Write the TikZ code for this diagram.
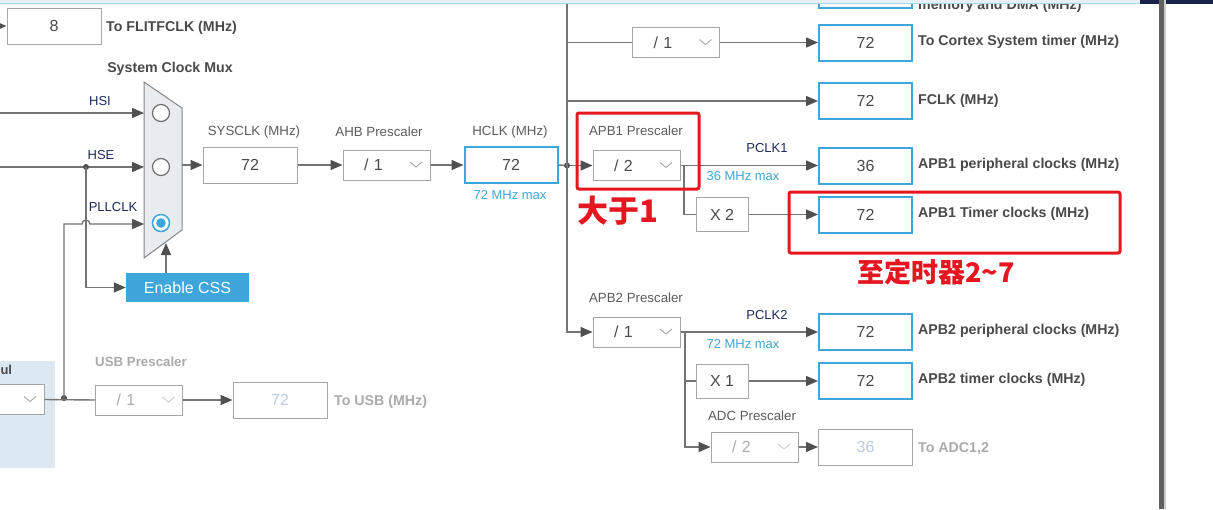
\documentclass[tikz,border=0pt]{standalone}
\usepackage{fontspec}
\setmainfont{Liberation Sans}
\newfontfamily\cjk{Noto Sans CJK SC}
\usetikzlibrary{arrows.meta, positioning, calc}
\definecolor{wireg}{HTML}{747474}
\definecolor{tipg}{HTML}{505050}
\definecolor{boxg}{HTML}{A6A6A6}
\definecolor{cubeblue}{HTML}{3EA6DB}
\definecolor{txtg}{HTML}{4A4A4A}
\definecolor{navy}{HTML}{1F2B5E}
\definecolor{dimg}{HTML}{ABABAB}
\definecolor{dimblue}{HTML}{B9CCE2}
\definecolor{markred}{HTML}{E5161F}
\definecolor{muxfill}{HTML}{E9ECEF}
\definecolor{panelblue}{HTML}{DCE9F5}

\newcommand\chevron[1]{\draw[draw=#1, line width=0.9pt]
  ($(path picture bounding box.east)+(-20pt,3pt)$) -- ++(6pt,-5pt) -- ++(6pt,5pt);}

\tikzset{
  wire/.style={draw=wireg, line width=1.4pt},
  feed/.style={wire, -{Triangle[length=12pt,width=10pt,color=tipg]}},
  valbox/.style={draw=boxg, line width=1pt, fill=white, minimum width=94pt,
    minimum height=36pt, inner sep=0pt, text=txtg, font=\fontsize{16}{17}\selectfont},
  clkbox/.style={valbox, draw=cubeblue, line width=2pt, minimum width=93pt},
  dimbox/.style={valbox, text=dimblue},
  dropbox/.style={draw=boxg, line width=1pt, fill=white, minimum height=30pt,
    text width=45pt, inner xsep=21pt, inner ysep=0pt, align=left, text=txtg,
    font=\fontsize{16}{17}\selectfont, path picture={\chevron{boxg}}},
  dimdrop/.style={dropbox, text=dimg, path picture={\chevron{dimg!60}}},
  toplbl/.style={text=txtg!90, font=\fontsize{13.3}{15}\selectfont},
  dimlbl/.style={toplbl, text=dimg, font=\bfseries\fontsize{13.3}{15}\selectfont},
  outlbl/.style={anchor=west, inner xsep=0pt, text=txtg, font=\bfseries\fontsize{14.2}{15}\selectfont},
  siglbl/.style={text=navy, font=\fontsize{13}{14}\selectfont},
  maxlbl/.style={text=cubeblue, font=\fontsize{13}{14}\selectfont},
  notelbl/.style={text=markred, font=\cjk\bfseries\fontsize{28}{30}\selectfont},
  redframe/.style={draw=markred, line width=3pt, rounded corners=2pt},
  muxpin/.style={circle, draw=txtg!80, line width=1.2pt, fill=white, minimum size=17pt, inner sep=0pt},
  dot/.style={circle, fill=tipg, minimum size=6pt, inner sep=0pt}
}

\begin{document}
\begin{tikzpicture}[x=1pt,y=-1pt]
\path[use as bounding box, clip] (0,0) rectangle (1213,509);
\fill[white] (0,0) rectangle (1213,509);

% PLL multiplier panel, cut at the left edge
\fill[panelblue] (-1,361) rectangle (55,468);
\node[anchor=west, text=txtg, font=\bfseries\fontsize{13}{14}\selectfont] (mullbl) at (-3,370) {ul};
\node[dropbox] (pllmul) at (0.5,399.5) {};

% flash clock
\coordinate (flitin) at (0,26);
\node[valbox] (flit) at (54,26) {8};
\node[outlbl] (flitlbl) at (106,28) {To FLITFCLK (MHz)};
\draw[feed] (flitin) -- (flit.west);

% system clock mux
\node[text=txtg, font=\bfseries\fontsize{14.2}{15}\selectfont] (muxlbl) at (170,69) {System Clock Mux};
\filldraw[fill=muxfill, draw=boxg!80!black, line width=1pt]
  (144,82) -- (182,108) -- (182,230) -- (144,258) -- cycle;
\node[muxpin] (pinhsi) at (161,113) {};
\node[muxpin] (pinhse) at (161,167) {};
\node[muxpin, draw=cubeblue, line width=1.5pt] (pinpll) at (161,223) {};
\fill[cubeblue] (pinpll) circle (4.8);
\coordinate (hsiin) at (144,113);
\coordinate (hsein) at (144,167);
\coordinate (pllin) at (144,224);
\coordinate (muxout) at (182,165);
\coordinate (muxbot) at (166,243);

\node[siglbl] (hsilbl) at (100,101) {HSI};
\node[siglbl] (hselbl) at (101,155) {HSE};
\node[siglbl] (plllbl) at (113,207) {PLLCLK};
\draw[feed] (0,113) -- (hsiin);
\draw[feed] (0,167) -- (hsein);
\node[dot] (hsedot) at (86,167) {};
\node[dot] (usbdot) at (64,398) {};
\draw[feed] (usbdot.center) -- (64,224) -- (82,224) arc (180:360:4) -- (pllin);

\node[fill=cubeblue, text=white, minimum width=123pt, minimum height=29pt, inner sep=0pt,
  font=\fontsize{16}{17}\selectfont] (css) at (187.5,287.5) {Enable CSS};
\draw[feed] (hsedot.center) -- (86,287.5) -- (css.west);
\draw[feed] (css.north -| muxbot) -- (muxbot);

% SYSCLK -> AHB -> HCLK
\node[valbox] (sysclk) at (250,165) {72};
\node[toplbl] (syslbl) at (254,132) {SYSCLK (MHz)};
\node[dropbox] (ahb) at (386.5,165) {/ 1};
\node[toplbl] (ahblbl) at (379,132) {AHB Prescaler};
\node[clkbox] (hclk) at (511,165) {72};
\node[toplbl] (hclklbl) at (510,132) {HCLK (MHz)};
\node[maxlbl] (hclkmax) at (510,195) {72 MHz max};
\draw[feed] (muxout) -- (sysclk.west);
\draw[feed] (sysclk.east) -- (ahb.west);
\draw[feed] (ahb.east) -- (hclk.west);

% USB
\node[dimlbl] (usblbl) at (141,362) {USB Prescaler};
\node[dimdrop] (usb) at (139,400) {/ 1};
\node[dimbox] (usbout) at (280,400) {72};
\node[anchor=west, inner xsep=0pt, text=dimg, font=\bfseries\fontsize{14.2}{15}\selectfont] (usboutlbl) at (334,402) {To USB (MHz)};
\draw[wire] (pllmul.east) -- (usb.west);
\draw[feed] (usb.east) -- (usbout.west);

% HCLK bus
\coordinate (bustop) at (567,0);
\node[dot] (busdot) at (567,165.5) {};
\draw[wire] (hclk.east) -- (busdot);

\node[clkbox] (dma) at (865.5,-10) {};
\node[outlbl] (dmalbl) at (918,6) {memory and DMA (MHz)};

\node[dropbox] (cortexdiv) at (676,42.5) {/ 1};
\node[clkbox] (cortex) at (865.5,42.5) {72};
\node[outlbl] (cortexlbl) at (918,42) {To Cortex System timer (MHz)};
\draw[wire] (bustop |- cortexdiv) -- (cortexdiv.west);
\draw[feed] (cortexdiv.east) -- (cortex.west);

\node[clkbox] (fclk) at (865.5,101) {72};
\node[outlbl] (fclklbl) at (918,101) {FCLK (MHz)};
\draw[feed] (bustop |- fclk) -- (fclk.west);

% APB1
\node[toplbl] (apb1lbl) at (636,131) {APB1 Prescaler};
\node[dropbox] (apb1) at (636.5,165.5) {/ 2};
\node[clkbox] (apb1per) at (865.5,165.5) {36};
\node[outlbl] (apb1perlbl) at (918,165) {APB1 peripheral clocks (MHz)};
\node[siglbl] (pclk1) at (767,148) {PCLK1};
\node[maxlbl] (apb1max) at (743,176) {36 MHz max};
\node[valbox, minimum width=52pt, minimum height=34pt] (x2) at (722,214.5) {X 2};
\node[clkbox] (apb1tim) at (865.5,214.5) {72};
\node[outlbl] (apb1timlbl) at (918,214) {APB1 Timer clocks (MHz)};
\draw[feed] (busdot) -- (apb1.west);
\draw[feed] (apb1.east) -- (apb1per.west);
\draw[wire] (684,165.5) -- (684,214.5) -- (x2.west);
\draw[feed] (x2.east) -- (apb1tim.west);

% APB2
\node[toplbl] (apb2lbl) at (636,298) {APB2 Prescaler};
\node[dropbox] (apb2) at (636.5,332) {/ 1};
\node[clkbox] (apb2per) at (865.5,332) {72};
\node[outlbl] (apb2perlbl) at (918,331) {APB2 peripheral clocks (MHz)};
\node[siglbl] (pclk2) at (767,315) {PCLK2};
\node[maxlbl] (apb2max) at (743,344) {72 MHz max};
\node[valbox, minimum width=52pt, minimum height=34pt] (x1) at (722,381) {X 1};
\node[clkbox] (apb2tim) at (865.5,381) {72};
\node[outlbl] (apb2timlbl) at (918,380) {APB2 timer clocks (MHz)};
\node[toplbl] (adclbl) at (752,416) {ADC Prescaler};
\node[dimdrop] (adc) at (754.5,447) {/ 2};
\node[dimbox] (adcout) at (865.5,447) {36};
\node[anchor=west, inner xsep=0pt, text=dimg, font=\bfseries\fontsize{14.2}{15}\selectfont] (adcoutlbl) at (918,449) {To ADC1,2};
\draw[feed] (bustop) -- (567,332) -- (apb2.west);
\draw[feed] (apb2.east) -- (apb2per.west);
\draw[feed] (685,332) -- (685,447) -- (adc.west);
\draw[wire] (685,381) -- (x1.west);
\draw[feed] (x1.east) -- (apb2tim.west);
\draw[feed] (adc.east) -- (adcout.west);

% marks
\draw[redframe] (577,113) rectangle (699,189);
\node[notelbl, anchor=west, inner xsep=0pt, font=\cjk\bfseries\fontsize{31}{32}\selectfont] (note1) at (577,211) {大于1};
\draw[redframe] (789,192) rectangle (1120,253);
\node[notelbl, anchor=west, inner xsep=0pt, font=\cjk\bfseries\fontsize{27}{30}\selectfont] (note2) at (857,272) {至定时器2\textasciitilde7};

% window edges
\fill[panelblue!70] (0,0) rectangle (1213,3);
\draw[cubeblue!45, line width=1pt] (0,3) -- (1140,3);
\fill[navy!80!black] (1140,0) rectangle (1213,3.5);
\fill[black!62] (1159,0) rectangle (1164,509);
\fill[black!20] (1164,0) rectangle (1166,509);
\end{tikzpicture}
\end{document}
